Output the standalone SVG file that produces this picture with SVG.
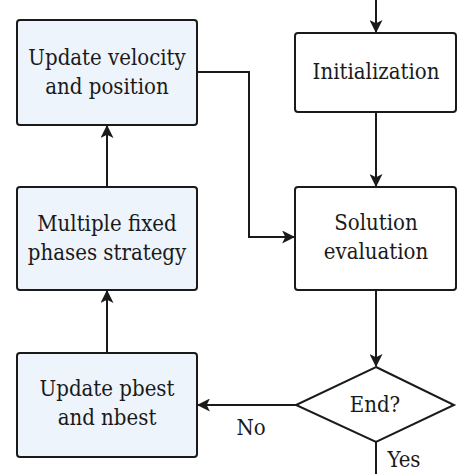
<svg xmlns="http://www.w3.org/2000/svg" width="474" height="474" viewBox="0 0 474 474">
<defs>
<style>
.box{stroke:#1a1a1a;stroke-width:2;}
.blue{fill:#eef4fb;}
.white{fill:#ffffff;}
.t{font-size:22px;fill:#1a1a1a;text-anchor:middle;}
.c{fill:none;stroke:#1a1a1a;stroke-width:2;}
</style>
<marker id="ah" viewBox="0 0 12 12" refX="11" refY="6" markerWidth="13" markerHeight="13" markerUnits="userSpaceOnUse" orient="auto">
<path d="M0,0 L12,6 L0,12 L3,6 Z" fill="#1a1a1a"/>
</marker>
</defs>
<rect width="474" height="474" fill="#ffffff"/>
<g id="connectors">
<path class="c" d="M376,0 V32" marker-end="url(#ah)"/>
<path class="c" d="M376,112 V186" marker-end="url(#ah)"/>
<path class="c" d="M376,290 V366" marker-end="url(#ah)"/>
<path class="c" d="M197,72 H249 V237 H294" marker-end="url(#ah)"/>
<path class="c" d="M296,405 H198" marker-end="url(#ah)"/>
<path class="c" d="M107,353 V291" marker-end="url(#ah)"/>
<path class="c" d="M107,187 V126" marker-end="url(#ah)"/>
<path class="c" d="M376,442 V474"/>
</g>
<g font-family="'DejaVu Serif Condensed', 'DejaVu Serif', serif" font-stretch="condensed">
<text class="t" x="251" y="435">No</text>
<text class="t" x="404" y="467">Yes</text>
<g id="update-velocity">
<rect class="box blue" x="17" y="20" width="180" height="105" rx="3"/>
<text class="t" x="107" y="65">Update velocity</text>
<text class="t" x="107" y="94">and position</text>
</g>
<g id="multiple-fixed">
<rect class="box blue" x="17" y="187" width="180" height="103" rx="3"/>
<text class="t" x="107" y="231">Multiple fixed</text>
<text class="t" x="107" y="260">phases strategy</text>
</g>
<g id="update-pbest">
<rect class="box blue" x="17" y="353" width="180" height="104" rx="3"/>
<text class="t" x="107" y="396">Update pbest</text>
<text class="t" x="107" y="425">and nbest</text>
</g>
<g id="initialization">
<rect class="box white" x="295" y="33" width="161" height="79" rx="3"/>
<text class="t" x="376" y="79">Initialization</text>
</g>
<g id="solution-evaluation">
<rect class="box white" x="295" y="187" width="161" height="103" rx="3"/>
<text class="t" x="376" y="230">Solution</text>
<text class="t" x="376" y="259">evaluation</text>
</g>
<g id="end">
<polygon class="box white" points="376,367 454,405 376,442 296,405"/>
<text class="t" x="375" y="412">End?</text>
</g>
</g>
</svg>
